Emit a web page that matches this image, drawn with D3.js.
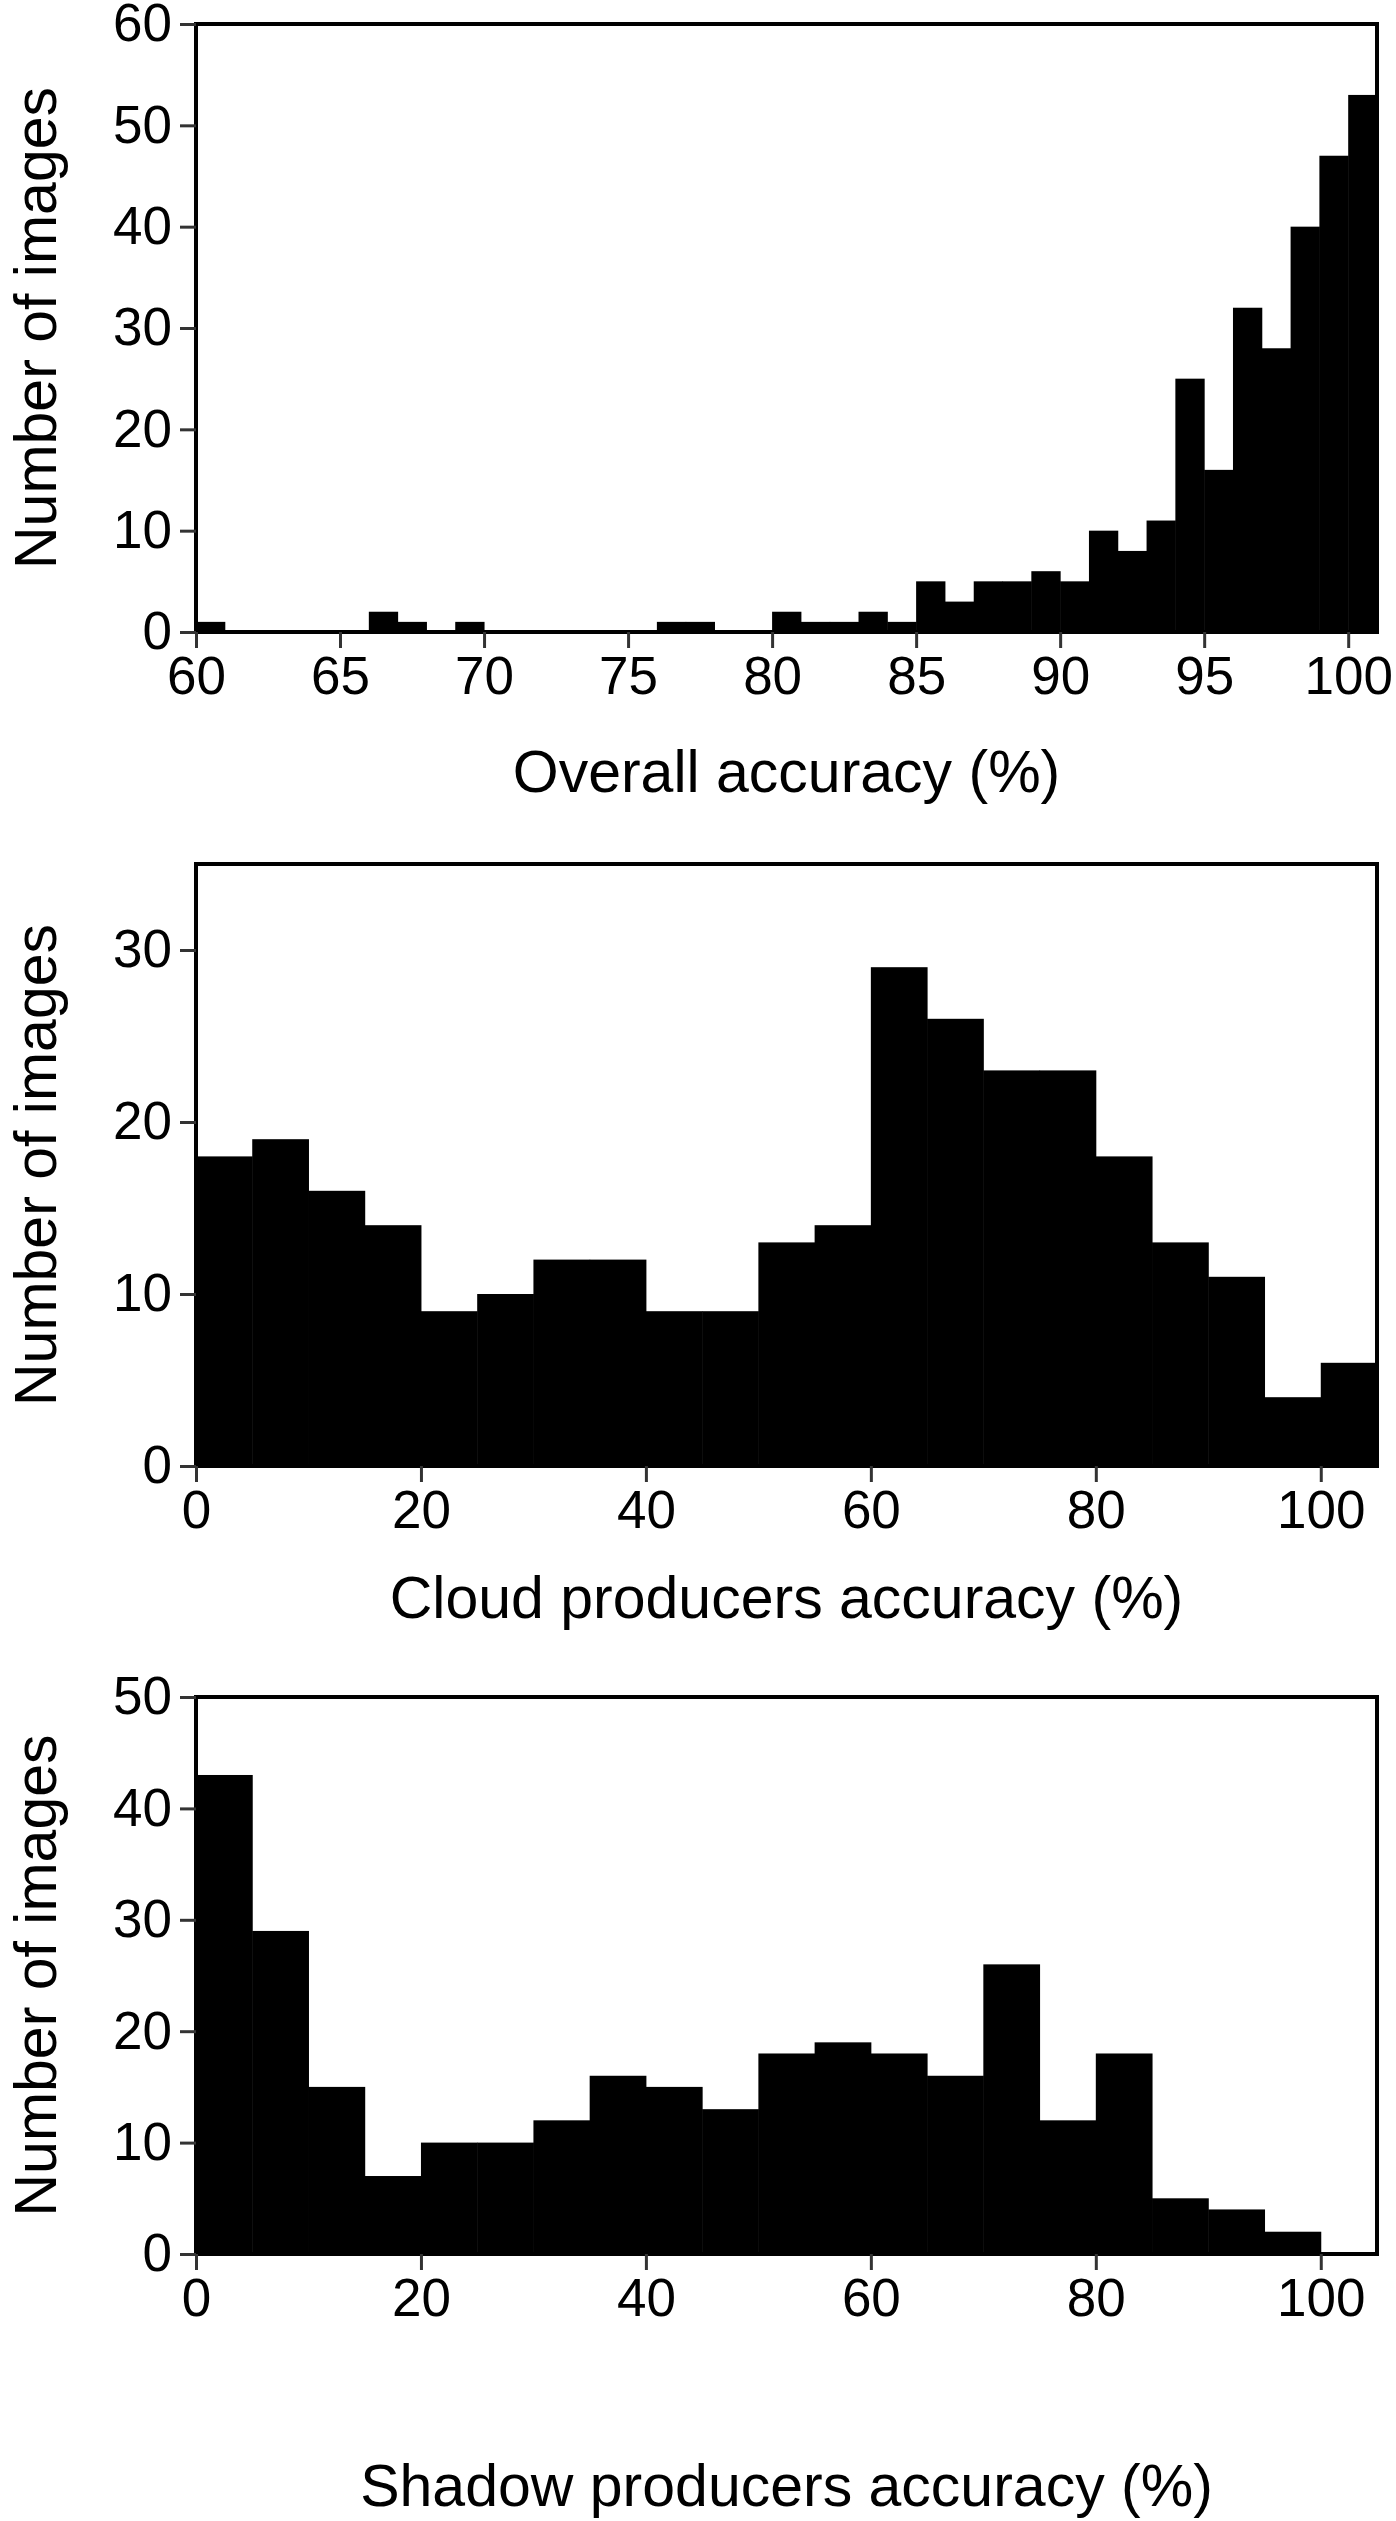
<!DOCTYPE html>
<html>
<head>
<meta charset="utf-8">
<script src="https://d3js.org/d3.v7.min.js"></script>
<style>
body { margin: 0; background: #fff; }
text { font-family: "Liberation Sans Narrow", "Liberation Sans", Arial, sans-serif; fill: #000; }
.tick text { font-size: 53px; }
.axlabel { font-size: 59px; }
</style>
</head>
<body>
<svg id="chart" width="1396" height="2521"></svg>
<script>
// overall accuracy, 1% bins starting at 60
const overallStart = 60;
const overallCounts = [1,0,0,0,0,0,2,1,0,1,0,0,0,0,0,0,1,1,0,0,2,1,1,2,1,5,3,5,5,6,5,10,8,11,25,16,32,28,40,47,53];
// cloud producers accuracy, 5% bins from 0
const cloudCounts = [18,19,16,14,9,10,12,12,9,9,13,14,29,26,23,23,18,13,11,4,6];
// shadow producers accuracy, 5% bins from 0
const shadowCounts = [43,29,15,7,10,10,12,16,15,13,18,19,18,16,26,12,18,5,4,2,0];

const panels = [
  { counts: overallCounts, start: overallStart, width: 1, xdom: [60, 101], xticks: [60,65,70,75,80,85,90,95,100],
    ydom: [0, 60], yticks: [0,10,20,30,40,50,60], top: 24, bottom: 632, label: "Overall accuracy (%)", labelY: 792 },
  { counts: cloudCounts, start: 0, width: 5, xdom: [0, 105], xticks: [0,20,40,60,80,100],
    ydom: [0, 35], yticks: [0,10,20,30], top: 864, bottom: 1466, label: "Cloud producers accuracy (%)", labelY: 1618 },
  { counts: shadowCounts, start: 0, width: 5, xdom: [0, 105], xticks: [0,20,40,60,80,100],
    ydom: [0, 50], yticks: [0,10,20,30,40,50], top: 1697, bottom: 2254, label: "Shadow producers accuracy (%)", labelY: 2506 }
];

const svg = d3.select("#chart");
const left = 196, right = 1377;

panels.forEach(function(p) {
  const x = d3.scaleLinear().domain(p.xdom).range([left, right]);
  const y = d3.scaleLinear().domain(p.ydom).range([p.bottom, p.top]);
  const g = svg.append("g");

  const bins = p.counts.map(function(c, i) { return { x0: p.start + i * p.width, x1: p.start + (i + 1) * p.width, c: c }; });
  g.selectAll("rect.bar").data(bins).enter().append("rect")
    .attr("class", "bar")
    .attr("x", d => x(d.x0))
    .attr("width", d => Math.min(x(d.x1), right) - x(d.x0) + 0.5)
    .attr("y", d => d.c > 0 ? y(d.c) : p.bottom - 2)
    .attr("height", d => d.c > 0 ? p.bottom - y(d.c) : 2)
    .attr("fill", "#000");

  // frame
  g.append("rect")
    .attr("x", left).attr("y", p.top)
    .attr("width", right - left).attr("height", p.bottom - p.top)
    .attr("fill", "none").attr("stroke", "#000").attr("stroke-width", 4);

  const xa = g.append("g").attr("transform", "translate(0," + p.bottom + ")")
    .call(d3.axisBottom(x).tickValues(p.xticks).tickSize(16).tickPadding(8).tickFormat(d3.format("d")));
  const ya = g.append("g").attr("transform", "translate(" + left + ",0)")
    .call(d3.axisLeft(y).tickValues(p.yticks).tickSize(16).tickPadding(8).tickFormat(d3.format("d")));
  [xa, ya].forEach(function(a) {
    a.select(".domain").remove();
    a.selectAll(".tick line").attr("stroke", "#333").attr("stroke-width", 3);
  });

  g.append("text").attr("class", "axlabel")
    .attr("x", (left + right) / 2).attr("y", p.labelY)
    .attr("text-anchor", "middle").text(p.label);
  g.append("text").attr("class", "axlabel")
    .attr("transform", "translate(56," + ((p.top + p.bottom) / 2) + ") rotate(-90)")
    .attr("text-anchor", "middle").text("Number of images");
});
</script>
</body>
</html>
